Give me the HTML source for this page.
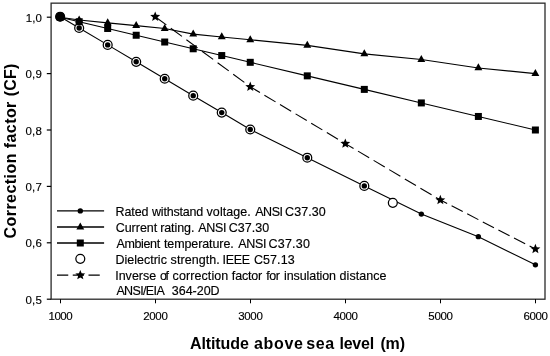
<!DOCTYPE html>
<html><head><meta charset="utf-8"><title>Correction factor vs altitude</title>
<style>
html,body{margin:0;padding:0;background:#fff}
svg text{font-family:"Liberation Sans",Arial,sans-serif;fill:#000}
.tk{font-size:11.5px;stroke:#000;stroke-width:0.15px}
.lg{font-size:11.9px;stroke:#000;stroke-width:0.15px}
.tt{font-size:16px;font-weight:bold}
</style></head><body>
<svg width="550" height="356" viewBox="0 0 550 356" style="display:block">
<rect width="550" height="356" fill="#fff"/>
<rect x="51.1" y="3.15" width="493.9" height="296.05" fill="none" stroke="#2a2a2a" stroke-width="1.3"/>
<line x1="60.50" y1="299.2" x2="60.50" y2="303.3" stroke="#000" stroke-width="1"/>
<text x="48.60" y="320.1" class="tk" textLength="23.99" lengthAdjust="spacing">1000</text>
<line x1="155.50" y1="299.2" x2="155.50" y2="303.3" stroke="#000" stroke-width="1"/>
<text x="143.20" y="320.1" class="tk" textLength="24.59" lengthAdjust="spacing">2000</text>
<line x1="250.50" y1="299.2" x2="250.50" y2="303.3" stroke="#000" stroke-width="1"/>
<text x="238.25" y="320.1" class="tk" textLength="24.59" lengthAdjust="spacing">3000</text>
<line x1="345.50" y1="299.2" x2="345.50" y2="303.3" stroke="#000" stroke-width="1"/>
<text x="333.55" y="320.1" class="tk" textLength="24.34" lengthAdjust="spacing">4000</text>
<line x1="440.50" y1="299.2" x2="440.50" y2="303.3" stroke="#000" stroke-width="1"/>
<text x="428.35" y="320.1" class="tk" textLength="24.59" lengthAdjust="spacing">5000</text>
<line x1="535.50" y1="299.2" x2="535.50" y2="303.3" stroke="#000" stroke-width="1"/>
<text x="523.40" y="320.1" class="tk" textLength="24.59" lengthAdjust="spacing">6000</text>
<line x1="46.800000000000004" y1="17.20" x2="51.1" y2="17.20" stroke="#000" stroke-width="1.2"/>
<text x="25.70" y="21.70" class="tk" textLength="16.10" lengthAdjust="spacing">1,0</text>
<line x1="46.800000000000004" y1="73.60" x2="51.1" y2="73.60" stroke="#000" stroke-width="1.2"/>
<text x="25.50" y="78.10" class="tk" textLength="16.30" lengthAdjust="spacing">0,9</text>
<line x1="46.800000000000004" y1="130.00" x2="51.1" y2="130.00" stroke="#000" stroke-width="1.2"/>
<text x="25.50" y="134.50" class="tk" textLength="16.30" lengthAdjust="spacing">0,8</text>
<line x1="46.800000000000004" y1="186.40" x2="51.1" y2="186.40" stroke="#000" stroke-width="1.2"/>
<text x="25.50" y="190.90" class="tk" textLength="16.30" lengthAdjust="spacing">0,7</text>
<line x1="46.800000000000004" y1="242.80" x2="51.1" y2="242.80" stroke="#000" stroke-width="1.2"/>
<text x="25.50" y="247.30" class="tk" textLength="16.30" lengthAdjust="spacing">0,6</text>
<line x1="46.800000000000004" y1="299.20" x2="51.1" y2="299.20" stroke="#000" stroke-width="1.2"/>
<text x="25.50" y="303.70" class="tk" textLength="16.30" lengthAdjust="spacing">0,5</text>
<polyline points="60.15,16.70 79.16,27.98 107.68,44.90 136.19,61.82 164.71,78.74 193.22,95.66 221.74,112.58 250.25,129.50 307.28,157.70 364.31,185.90 421.34,214.10 478.37,236.66 535.40,264.86" fill="none" stroke="#000" stroke-width="1.1" />
<polyline points="60.15,17.20 79.16,20.02 107.68,22.84 136.19,25.66 164.71,28.48 193.22,34.12 221.74,36.94 250.25,39.76 307.28,45.40 364.31,53.86 421.34,59.50 478.37,67.96 535.40,73.60" fill="none" stroke="#000" stroke-width="1.1" />
<polyline points="60.15,17.20 79.16,21.71 107.68,28.48 136.19,35.25 164.71,42.02 193.22,48.78 221.74,55.55 250.25,62.32 307.28,75.86 364.31,89.39 421.34,102.93 478.37,116.46 535.40,130.00" fill="none" stroke="#000" stroke-width="1.1" />
<line x1="155.20" y1="16.70" x2="250.25" y2="86.75" stroke="#000" stroke-width="1.1" stroke-dasharray="13.85 5.53" stroke-dashoffset="0.00"/>
<line x1="250.25" y1="86.75" x2="345.30" y2="143.60" stroke="#000" stroke-width="1.1" stroke-dasharray="12.99 5.19" stroke-dashoffset="1.69"/>
<line x1="345.30" y1="143.60" x2="440.35" y2="200.00" stroke="#000" stroke-width="1.1" stroke-dasharray="12.97 5.17" stroke-dashoffset="3.37"/>
<line x1="440.35" y1="200.00" x2="535.40" y2="249.07" stroke="#000" stroke-width="1.1" stroke-dasharray="12.55 5.01" stroke-dashoffset="4.90"/>
<circle cx="60.15" cy="16.70" r="4.45" fill="#fff" stroke="#000" stroke-width="1.25"/>
<circle cx="79.16" cy="27.98" r="4.45" fill="#fff" stroke="#000" stroke-width="1.25"/>
<circle cx="107.68" cy="44.90" r="4.45" fill="#fff" stroke="#000" stroke-width="1.25"/>
<circle cx="136.19" cy="61.82" r="4.45" fill="#fff" stroke="#000" stroke-width="1.25"/>
<circle cx="164.71" cy="78.74" r="4.45" fill="#fff" stroke="#000" stroke-width="1.25"/>
<circle cx="193.22" cy="95.66" r="4.45" fill="#fff" stroke="#000" stroke-width="1.25"/>
<circle cx="221.74" cy="112.58" r="4.45" fill="#fff" stroke="#000" stroke-width="1.25"/>
<circle cx="250.25" cy="129.50" r="4.45" fill="#fff" stroke="#000" stroke-width="1.25"/>
<circle cx="307.28" cy="157.70" r="4.45" fill="#fff" stroke="#000" stroke-width="1.25"/>
<circle cx="364.31" cy="185.90" r="4.45" fill="#fff" stroke="#000" stroke-width="1.25"/>
<circle cx="392.82" cy="202.82" r="4.45" fill="#fff" stroke="#000" stroke-width="1.25"/>
<circle cx="60.15" cy="16.70" r="2.7" fill="#000"/>
<circle cx="79.16" cy="27.98" r="2.7" fill="#000"/>
<circle cx="107.68" cy="44.90" r="2.7" fill="#000"/>
<circle cx="136.19" cy="61.82" r="2.7" fill="#000"/>
<circle cx="164.71" cy="78.74" r="2.7" fill="#000"/>
<circle cx="193.22" cy="95.66" r="2.7" fill="#000"/>
<circle cx="221.74" cy="112.58" r="2.7" fill="#000"/>
<circle cx="250.25" cy="129.50" r="2.7" fill="#000"/>
<circle cx="307.28" cy="157.70" r="2.7" fill="#000"/>
<circle cx="364.31" cy="185.90" r="2.7" fill="#000"/>
<circle cx="421.34" cy="214.10" r="2.7" fill="#000"/>
<circle cx="478.37" cy="236.66" r="2.7" fill="#000"/>
<circle cx="535.40" cy="264.86" r="2.7" fill="#000"/>
<polygon points="60.15,12.60 56.20,19.60 64.10,19.60" fill="#000"/>
<polygon points="79.16,15.42 75.21,22.42 83.11,22.42" fill="#000"/>
<polygon points="107.68,18.24 103.73,25.24 111.63,25.24" fill="#000"/>
<polygon points="136.19,21.06 132.24,28.06 140.14,28.06" fill="#000"/>
<polygon points="164.71,23.88 160.76,30.88 168.66,30.88" fill="#000"/>
<polygon points="193.22,29.52 189.27,36.52 197.17,36.52" fill="#000"/>
<polygon points="221.74,32.34 217.79,39.34 225.69,39.34" fill="#000"/>
<polygon points="250.25,35.16 246.30,42.16 254.20,42.16" fill="#000"/>
<polygon points="307.28,40.80 303.33,47.80 311.23,47.80" fill="#000"/>
<polygon points="364.31,49.26 360.36,56.26 368.26,56.26" fill="#000"/>
<polygon points="421.34,54.90 417.39,61.90 425.29,61.90" fill="#000"/>
<polygon points="478.37,63.36 474.42,70.36 482.32,70.36" fill="#000"/>
<polygon points="535.40,69.00 531.45,76.00 539.35,76.00" fill="#000"/>
<rect x="56.65" y="13.70" width="7.0" height="7.0" fill="#000"/>
<rect x="75.66" y="18.21" width="7.0" height="7.0" fill="#000"/>
<rect x="104.18" y="24.98" width="7.0" height="7.0" fill="#000"/>
<rect x="132.69" y="31.75" width="7.0" height="7.0" fill="#000"/>
<rect x="161.21" y="38.52" width="7.0" height="7.0" fill="#000"/>
<rect x="189.72" y="45.28" width="7.0" height="7.0" fill="#000"/>
<rect x="218.24" y="52.05" width="7.0" height="7.0" fill="#000"/>
<rect x="246.75" y="58.82" width="7.0" height="7.0" fill="#000"/>
<rect x="303.78" y="72.36" width="7.0" height="7.0" fill="#000"/>
<rect x="360.81" y="85.89" width="7.0" height="7.0" fill="#000"/>
<rect x="417.84" y="99.43" width="7.0" height="7.0" fill="#000"/>
<rect x="474.87" y="112.96" width="7.0" height="7.0" fill="#000"/>
<rect x="531.90" y="126.50" width="7.0" height="7.0" fill="#000"/>
<circle cx="60.15" cy="16.70" r="4.7" fill="#000"/>
<polygon points="155.20,11.50 156.55,14.84 160.15,15.09 157.39,17.41 158.26,20.91 155.20,19.00 152.14,20.91 153.01,17.41 150.25,15.09 153.85,14.84" fill="#000"/>
<polygon points="250.25,81.55 251.60,84.89 255.20,85.14 252.44,87.46 253.31,90.96 250.25,89.05 247.19,90.96 248.06,87.46 245.30,85.14 248.90,84.89" fill="#000"/>
<polygon points="345.30,138.40 346.65,141.74 350.25,141.99 347.49,144.31 348.36,147.81 345.30,145.90 342.24,147.81 343.11,144.31 340.35,141.99 343.95,141.74" fill="#000"/>
<polygon points="440.35,194.80 441.70,198.14 445.30,198.39 442.54,200.71 443.41,204.21 440.35,202.30 437.29,204.21 438.16,200.71 435.40,198.39 439.00,198.14" fill="#000"/>
<polygon points="535.40,243.87 536.75,247.21 540.35,247.46 537.59,249.78 538.46,253.27 535.40,251.37 532.34,253.27 533.21,249.78 530.45,247.46 534.05,247.21" fill="#000"/>
<line x1="57.0" y1="210.9" x2="104.1" y2="210.9" stroke="#000" stroke-width="1.4"/>
<line x1="57.0" y1="227.0" x2="104.1" y2="227.0" stroke="#000" stroke-width="1.4"/>
<line x1="57.0" y1="243.0" x2="104.1" y2="243.0" stroke="#000" stroke-width="1.4"/>
<line x1="57.0" y1="275.1" x2="104.1" y2="275.1" stroke="#000" stroke-width="1.4" stroke-dasharray="11.25 4.5"/>
<circle cx="80.30" cy="210.90" r="2.7" fill="#000"/>
<polygon points="80.30,222.40 76.35,229.40 84.25,229.40" fill="#000"/>
<rect x="76.80" y="239.50" width="7.0" height="7.0" fill="#000"/>
<circle cx="80.30" cy="258.80" r="4.45" fill="#fff" stroke="#000" stroke-width="1.25"/>
<polygon points="80.30,269.90 81.65,273.24 85.25,273.49 82.49,275.81 83.36,279.31 80.30,277.40 77.24,279.31 78.11,275.81 75.35,273.49 78.95,273.24" fill="#000"/>
<text transform="translate(115.40,215.6) scale(1.0504,1)" class="lg" textLength="31.57" lengthAdjust="spacing">Rated</text>
<text transform="translate(152.00,215.6) scale(1.0504,1)" class="lg" textLength="48.75" lengthAdjust="spacing">withstand</text>
<text transform="translate(206.55,215.6) scale(1.0504,1)" class="lg" textLength="42.16" lengthAdjust="spacing">voltage.</text>
<text transform="translate(255.20,215.6) scale(1.0504,1)" class="lg" textLength="26.55" lengthAdjust="spacing">ANSI</text>
<text transform="translate(285.05,215.6) scale(1.0504,1)" class="lg" textLength="38.76" lengthAdjust="spacing">C37.30</text>
<text transform="translate(115.65,231.8) scale(1.0504,1)" class="lg" textLength="39.64" lengthAdjust="spacing">Current</text>
<text transform="translate(160.15,231.8) scale(1.0504,1)" class="lg" textLength="32.65" lengthAdjust="spacing">rating.</text>
<text transform="translate(198.20,231.8) scale(1.0504,1)" class="lg" textLength="26.83" lengthAdjust="spacing">ANSI</text>
<text transform="translate(228.65,231.8) scale(1.0504,1)" class="lg" textLength="38.66" lengthAdjust="spacing">C37.30</text>
<text transform="translate(116.40,248.0) scale(1.0504,1)" class="lg" textLength="41.71" lengthAdjust="spacing">Ambient</text>
<text transform="translate(163.95,248.0) scale(1.0504,1)" class="lg" textLength="66.43" lengthAdjust="spacing">temperature.</text>
<text transform="translate(238.20,248.0) scale(1.0504,1)" class="lg" textLength="27.02" lengthAdjust="spacing">ANSI</text>
<text transform="translate(268.45,248.0) scale(1.0504,1)" class="lg" textLength="39.52" lengthAdjust="spacing">C37.30</text>
<text transform="translate(115.40,264.0) scale(1.0504,1)" class="lg" textLength="49.03" lengthAdjust="spacing">Dielectric</text>
<text transform="translate(170.60,264.0) scale(1.0504,1)" class="lg" textLength="46.78" lengthAdjust="spacing">strength.</text>
<text transform="translate(222.55,264.0) scale(1.0504,1)" class="lg" textLength="26.23" lengthAdjust="spacing">IEEE</text>
<text transform="translate(253.95,264.0) scale(1.0504,1)" class="lg" textLength="38.76" lengthAdjust="spacing">C57.13</text>
<text transform="translate(115.15,279.6) scale(1.0504,1)" class="lg" textLength="39.17" lengthAdjust="spacing">Inverse</text>
<text transform="translate(159.90,279.6) scale(1.0504,1)" class="lg" textLength="8.60" lengthAdjust="spacing">of</text>
<text transform="translate(172.60,279.6) scale(1.0504,1)" class="lg" textLength="53.02" lengthAdjust="spacing">correction</text>
<text transform="translate(231.85,279.6) scale(1.0504,1)" class="lg" textLength="28.86" lengthAdjust="spacing">factor</text>
<text transform="translate(266.25,279.6) scale(1.0504,1)" class="lg" textLength="13.08" lengthAdjust="spacing">for</text>
<text transform="translate(284.05,279.6) scale(1.0504,1)" class="lg" textLength="49.48" lengthAdjust="spacing">insulation</text>
<text transform="translate(339.60,279.6) scale(1.0504,1)" class="lg" textLength="44.61" lengthAdjust="spacing">distance</text>
<text transform="translate(116.40,295.3) scale(1.0504,1)" class="lg" textLength="46.03" lengthAdjust="spacing">ANSI/EIA</text>
<text transform="translate(171.80,295.3) scale(1.0504,1)" class="lg" textLength="45.51" lengthAdjust="spacing">364-20D</text>
<text x="190.00" y="348.8" class="tt" textLength="58.85" lengthAdjust="spacing">Altitude</text>
<text x="253.90" y="348.8" class="tt" textLength="49.10" lengthAdjust="spacing">above</text>
<text x="306.25" y="348.8" class="tt" textLength="28.00" lengthAdjust="spacing">sea</text>
<text x="339.40" y="348.8" class="tt" textLength="34.79" lengthAdjust="spacing">level</text>
<text x="380.45" y="348.8" class="tt" textLength="24.54" lengthAdjust="spacing">(m)</text>
<text transform="translate(16.4,238.45) rotate(-90)" class="tt" textLength="84.86" lengthAdjust="spacing">Correction</text>
<text transform="translate(16.4,148.15) rotate(-90)" class="tt" textLength="46.45" lengthAdjust="spacing">factor</text>
<text transform="translate(16.4,96.15) rotate(-90)" class="tt" textLength="32.48" lengthAdjust="spacing">(CF)</text>
</svg>
</body></html>
